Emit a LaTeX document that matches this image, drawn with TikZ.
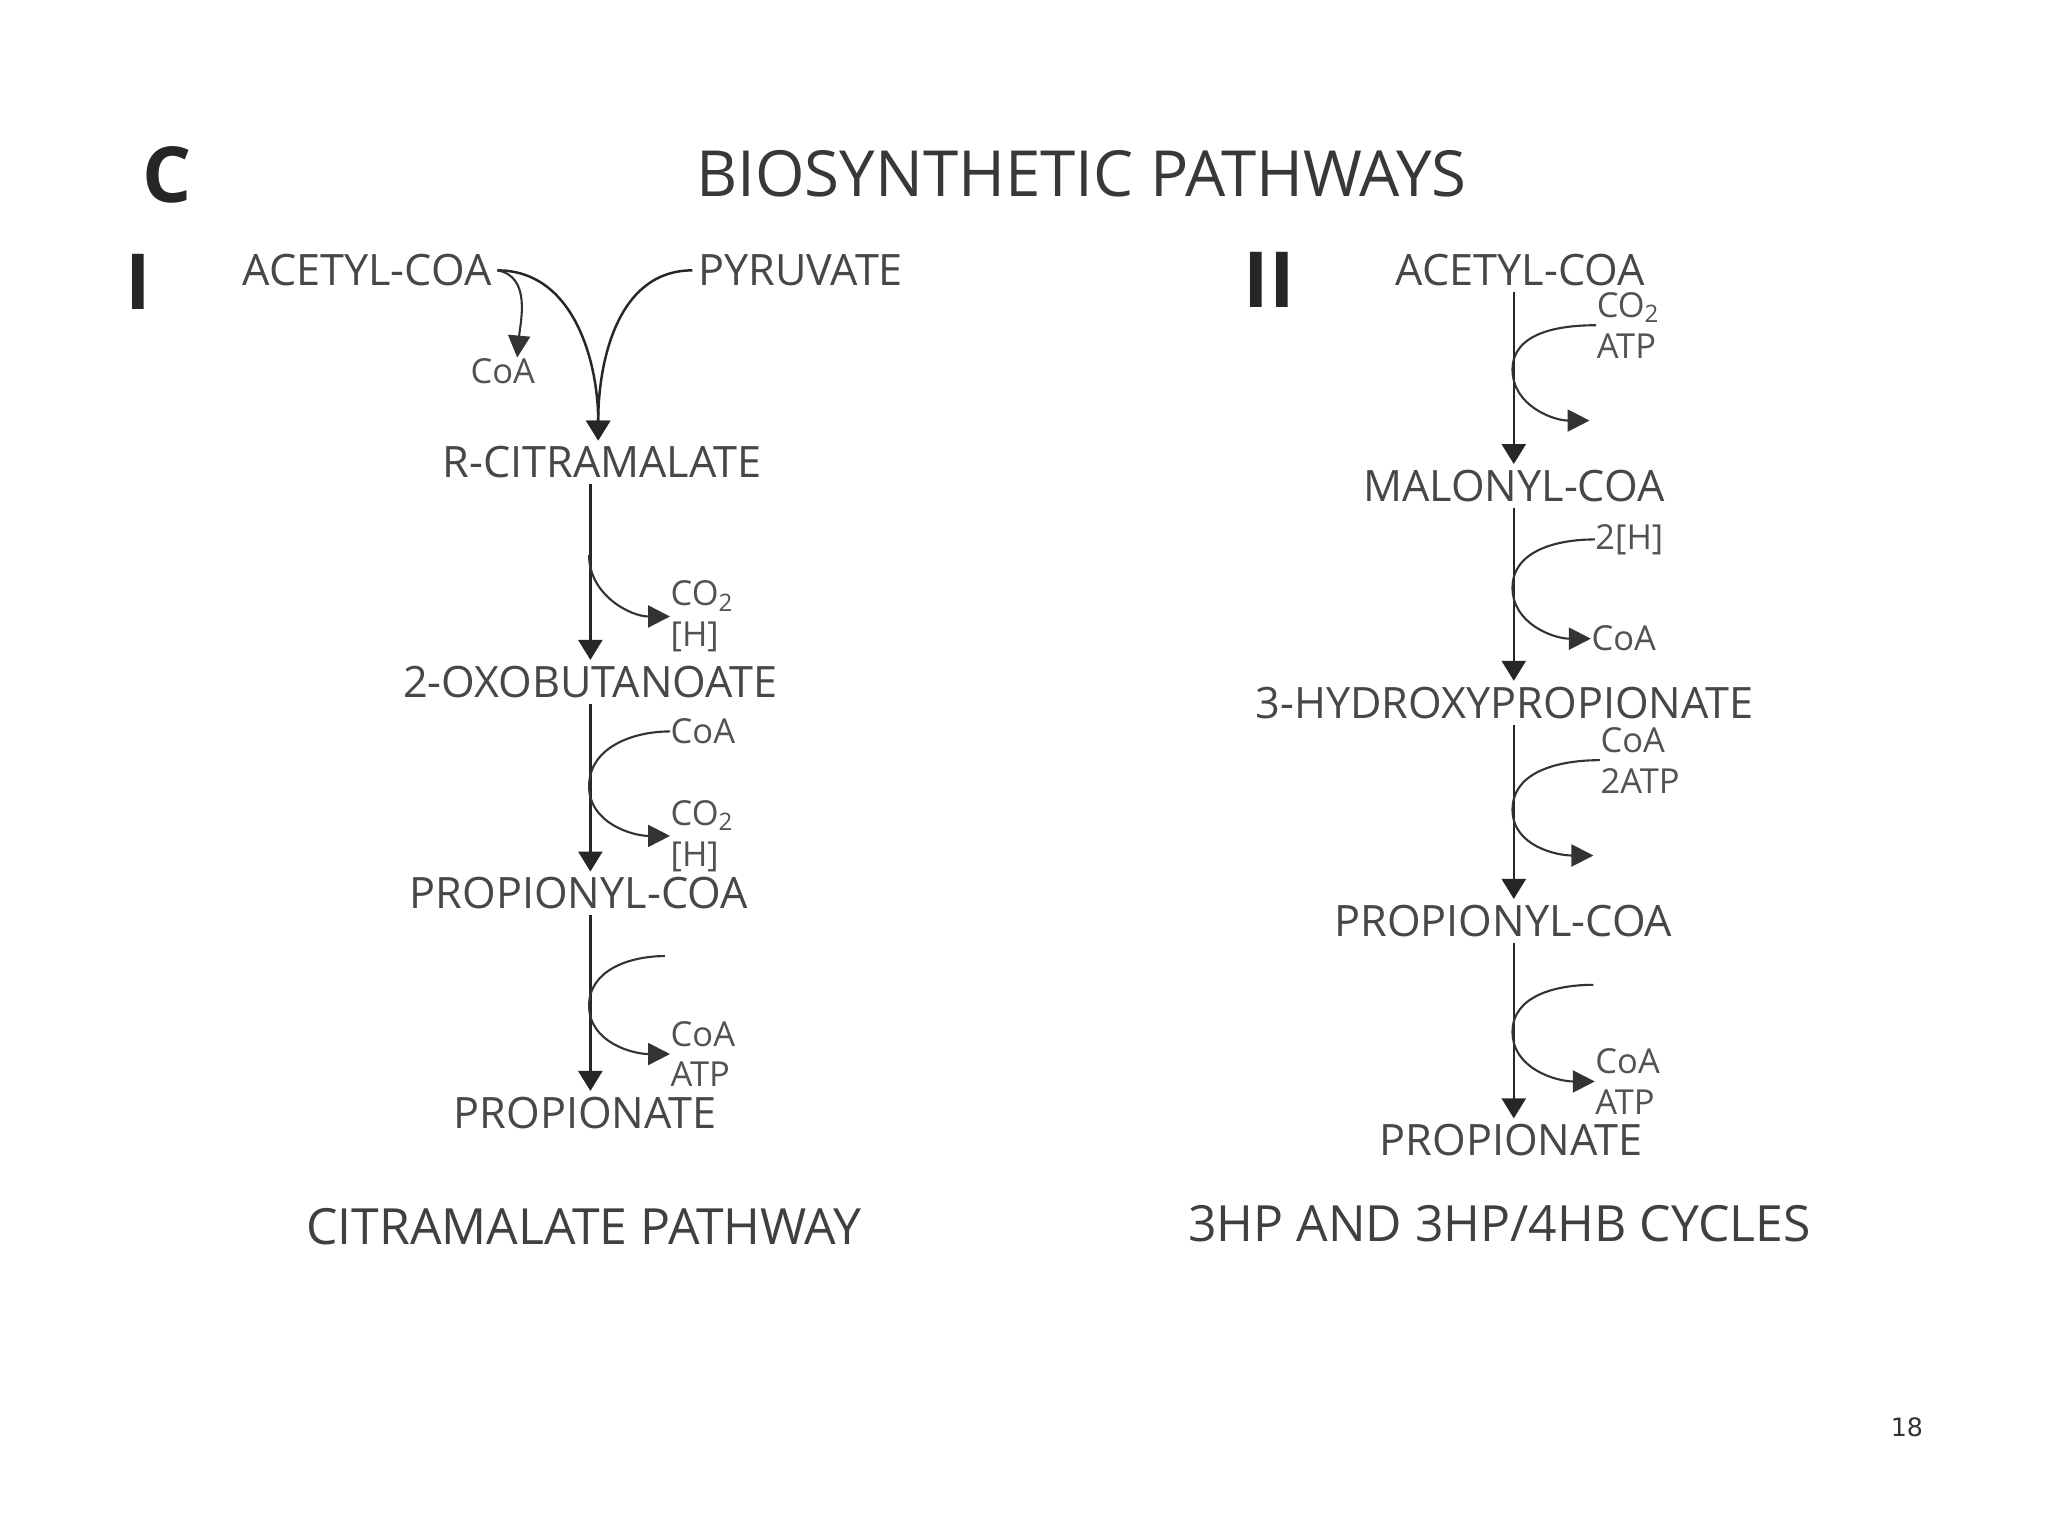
\documentclass[tikz,border=0pt]{standalone}
\usepackage{fontspec}
\usepackage{xcolor}
\setmainfont{Open Sans}
\newfontfamily\pagefont{DejaVu Sans}
\usetikzlibrary{positioning,arrows.meta,calc}

\begin{document}
\begin{tikzpicture}[
      x=0.013061cm, y=-0.013061cm,
      title/.style={inner sep=0pt, text=black!78, font=\fontsize{18.1}{20}\selectfont},
      panel/.style={inner sep=0pt, text=black!85, font=\fontsize{22}{24}\bfseries},
      compound/.style={inner sep=1.5pt, text=black!72, font=\fontsize{12.3}{14}\selectfont},
      cofactor/.style={inner sep=0pt, align=left, text=black!68, font=\fontsize{9.8}{11.6}\selectfont},
      caption/.style={inner sep=0pt, text=black!75, font=\fontsize{14.2}{16}\selectfont},
      arr/.style={-{Triangle[length=2mm,width=2.4mm]}, line width=0.7pt, black!85},
      side/.style={-{Triangle[length=2.2mm,width=2.2mm]}, line width=0.6pt, black!80}
  ]
    \useasboundingbox (0,0) rectangle (1568,1176);
    \node[panel] (letter) at (128,134) {C};
    \node[title] (heading) at (828,133) {BIOSYNTHETIC PATHWAYS};
    \node[panel] (one) at (106,216) {I};
    \node[panel] (two) at (972,214) {II};

    % citramalate pathway
    \node[compound] (acetyla) at (281,207) {ACETYL-COA};
    \node[compound] (pyruvate) at (613,207) {PYRUVATE};
    \node[cofactor] (coaa) at (385,284) {CoA};
    \node[compound] (citra) at (461,354) {R-CITRAMALATE};
    \node[cofactor, anchor=west] (coha) at (513,472) {CO\textsubscript{2}\\{[H]}};
    \node[compound] (oxo) at (452,522) {2-OXOBUTANOATE};
    \node[cofactor, anchor=west] (coab) at (513,560) {CoA};
    \node[cofactor, anchor=west] (cohb) at (513,640) {CO\textsubscript{2}\\{[H]}};
    \node[compound] (propa) at (443,684) {PROPIONYL-COA};
    \node[cofactor, anchor=west] (coatpa) at (513,807) {CoA\\ATP};
    \node[compound] (pionatea) at (448,852) {PROPIONATE};
    \node[caption] (captiona) at (447,939) {CITRAMALATE PATHWAY};

    \coordinate (benda) at (451,425);
    \coordinate (bendb) at (451,602);
    \coordinate (bendc) at (451,770);
    \coordinate (freea) at (509,732);

    \draw[arr] (acetyla.east) to[out=0,in=90] (citra.north -| 458,0);
    \draw[arr] (pyruvate.west) to[out=180,in=90] (citra.north -| 458,0);
    \draw[side] (acetyla.east) to[out=-10,in=85] (coaa.north -| 396,0);
    \draw[arr] (citra.south -| oxo.north) -- (oxo.north);
    \draw[arr] (oxo.south) -- (oxo.south |- propa.north);
    \draw[arr] (oxo.south |- propa.south) -- (oxo.south |- pionatea.north);
    \draw[side] (benda) to[out=-90,in=180] (coha.west);
    \draw[side] (coab.west) to[out=180,in=90] (bendb) to[out=-90,in=180] (cohb.west);
    \draw[side] (freea) to[out=180,in=90] (bendc) to[out=-90,in=180] (coatpa.west);

    % 3HP and 3HP/4HB cycles
    \node[compound] (acetylb) at (1164,207) {ACETYL-COA};
    \node[cofactor, anchor=west] (coatpb) at (1222,249) {CO\textsubscript{2}\\ATP};
    \node[compound] (malonyl) at (1159,372) {MALONYL-COA};
    \node[cofactor, anchor=west] (twoh) at (1221,413) {2[H]};
    \node[cofactor, anchor=west] (coac) at (1218,489) {CoA};
    \node[compound] (hydroxy) at (1152,538) {3-HYDROXYPROPIONATE};
    \node[cofactor, anchor=west] (coatpc) at (1225,582) {CoA\\2ATP};
    \node[compound] (propb) at (1151,705) {PROPIONYL-COA};
    \node[cofactor, anchor=west] (coatpd) at (1221,828) {CoA\\ATP};
    \node[compound] (pionateb) at (1157,873) {PROPIONATE};
    \node[caption] (captionb) at (1148,937) {3HP AND 3HP/4HB CYCLES};

    \coordinate (bendd) at (1158,283);
    \coordinate (bende) at (1158,450);
    \coordinate (bendf) at (1158,620);
    \coordinate (bendg) at (1158,790);
    \coordinate (freeb) at (1217,322);
    \coordinate (freec) at (1220,655);
    \coordinate (freed) at (1220,754);

    \draw[arr] (acetylb.south -| malonyl.north) -- (malonyl.north);
    \draw[arr] (malonyl.south) -- (malonyl.south |- hydroxy.north);
    \draw[arr] (malonyl.south |- hydroxy.south) -- (malonyl.south |- propb.north);
    \draw[arr] (malonyl.south |- propb.south) -- (malonyl.south |- pionateb.north);
    \draw[side] (coatpb.west) to[out=180,in=90] (bendd) to[out=-90,in=180] (freeb);
    \draw[side] (twoh.west) to[out=180,in=90] (bende) to[out=-90,in=180] (coac.west);
    \draw[side] (coatpc.west) to[out=180,in=90] (bendf) to[out=-90,in=180] (freec);
    \draw[side] (freed) to[out=180,in=90] (bendg) to[out=-90,in=180] (coatpd.west);

    \node[inner sep=0pt, font=\pagefont\fontsize{7.2}{9}\selectfont, text=black!80] (pagenum) at (1460,1093) {18};
  \end{tikzpicture}
\end{document}
